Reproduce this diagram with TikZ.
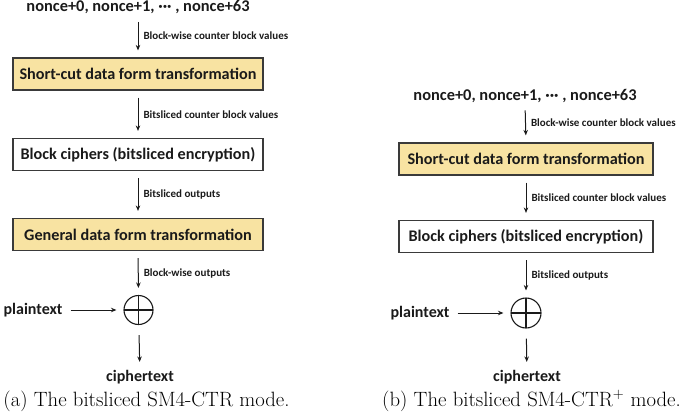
\documentclass[tikz,border=0pt]{standalone}
\usepackage{fontspec}
\newfontfamily\calibri{Carlito}
\usepackage{xcolor}
\definecolor{boxfill}{HTML}{F8E3A2}
\definecolor{boxline}{HTML}{3A3A3A}
\definecolor{ink}{HTML}{1A1A1A}
\usepackage{tikz}
\usetikzlibrary{arrows.meta}

\tikzset{
  stage/.style={draw=boxline, line width=1.2pt, minimum width=250pt, minimum height=32pt, inner sep=2pt,
    font=\calibri\bfseries\fontsize{16.2}{18}\selectfont, text=ink},
  hot/.style={stage, fill=boxfill},
  plain/.style={font=\calibri\bfseries\fontsize{16}{18}\selectfont, text=ink, inner sep=1pt},
  note/.style={font=\calibri\bfseries\fontsize{11}{13}\selectfont, text=ink, anchor=west, inner sep=0pt},
  xor/.style={draw=ink, line width=1.1pt, circle, minimum size=29pt, inner sep=0pt,
    path picture={\draw[ink, line width=1.1pt] (path picture bounding box.north) -- (path picture bounding box.south)
      (path picture bounding box.west) -- (path picture bounding box.east);}},
  flow/.style={draw=ink, line width=1pt, -{Stealth[length=5.5pt,width=4.5pt]}, shorten <=7pt, shorten >=7pt},
  subcap/.style={font=\fontsize{20.7}{23}\selectfont, inner sep=0pt}
}

\begin{document}
\begin{tikzpicture}[x=1pt, y=-1pt]
  \useasboundingbox (0,0) rectangle (685,415);

  % (a) SM4-CTR
  \node[plain, anchor=base, font=\calibri\bfseries\fontsize{16.4}{18}\selectfont] (nonceA) at (138,11.5) {nonce+0, nonce+1, ··· , nonce+63};
  \node[hot] (cutA) at (138,74) {Short-cut data form transformation};
  \node[stage] (encA) at (138,154.5) {Block ciphers (bitsliced encryption)};
  \node[hot] (genA) at (138,234.5) {General data form transformation};
  \node[xor] (xorA) at (138.5,310) {};
  \node[plain] (plainA) at (33,310) {plaintext};
  \node[plain] (cipherA) at (140,377) {ciphertext};
  \node[subcap] (capA) at (146.5,401) {(a) The bitsliced SM4-CTR mode.};

  % (b) SM4-CTR+
  \node[plain, anchor=base, font=\calibri\bfseries\fontsize{16.4}{18}\selectfont] (nonceB) at (525,100) {nonce+0, nonce+1, ··· , nonce+63};
  \node[hot, minimum width=254pt] (cutB) at (526,159) {Short-cut data form transformation};
  \node[stage, minimum width=254pt] (encB) at (526,236.5) {Block ciphers (bitsliced encryption)};
  \node[xor, minimum size=30pt] (xorB) at (526,313) {};
  \node[plain] (plainB) at (420,313) {plaintext};
  \node[plain] (cipherB) at (527,377) {ciphertext};
  \node[subcap] (capB) at (531.5,401) {(b) The bitsliced SM4-CTR$^{+}$ mode.};

  % connectors with their labels
  \foreach \from/\to/\lab in {nonceA/cutA/Block-wise counter block values, cutA/encA/Bitsliced counter block values,
      encA/genA/Bitsliced outputs, genA/xorA/Block-wise outputs,
      nonceB/cutB/Block-wise counter block values, cutB/encB/Bitsliced counter block values,
      encB/xorB/Bitsliced outputs} {
    \draw[flow] (\from.south) -- (\to.north) node[note, midway, xshift=5pt] {\lab};
  }
  \draw[flow] (plainA) -- (xorA);
  \draw[flow, shorten <=10pt] (xorA) -- (cipherA);
  \draw[flow] (plainB) -- (xorB);
  \draw[flow, shorten <=10pt] (xorB) -- (cipherB);
\end{tikzpicture}
\end{document}
